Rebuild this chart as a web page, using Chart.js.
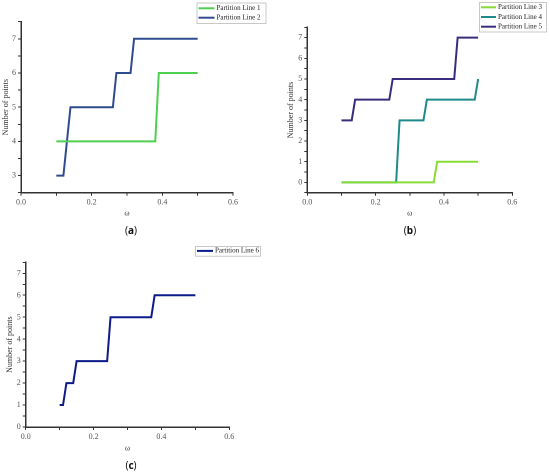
<!DOCTYPE html>
<html>
<head>
<meta charset="utf-8">
<script src="https://cdn.jsdelivr.net/npm/chart.js@4.4.0/dist/chart.umd.min.js"></script>
<style>
  html, body { margin:0; padding:0; background:#fff; }
  #wrap { position:relative; width:550px; height:473px; overflow:hidden; }
  canvas { position:absolute; }
  .cap { position:absolute; font-family:"Noto Sans", sans-serif; font-size:10px; color:#111; transform:translate(-50%,-50%); white-space:nowrap; }
  .cap b { font-weight:bold; }
</style>
</head>
<body>
<div id="wrap">
  <canvas id="ca" style="left:0;top:0;width:275px;height:230px"></canvas>
  <canvas id="cb" style="left:275px;top:0;width:275px;height:230px"></canvas>
  <canvas id="cc" style="left:0;top:230px;width:275px;height:243px"></canvas>
  <div class="cap" style="left:131px;top:230px">(<b>a</b>)</div>
  <div class="cap" style="left:410px;top:230px">(<b>b</b>)</div>
  <div class="cap" style="left:131px;top:465px">(<b>c</b>)</div>
</div>
<script>
// ---- data ----
const xTickLabels = ['0.0', '0.2', '0.4', '0.6'];
const line1X = [0.10, 0.38, 0.39, 0.50];
const line1Y = [4, 4, 6, 6];
const line2X = [0.10, 0.12, 0.14, 0.26, 0.27, 0.31, 0.32, 0.50];
const line2Y = [3, 3, 5, 5, 6, 6, 7, 7];
const line3X = [0.10, 0.37, 0.38, 0.50];
const line3Y = [0, 0, 1, 1];
const line4X = [0.10, 0.26, 0.27, 0.34, 0.35, 0.49, 0.50];
const line4Y = [0, 0, 3, 3, 4, 4, 5];
const line5X = [0.10, 0.13, 0.14, 0.24, 0.25, 0.43, 0.44, 0.50];
const line5Y = [3, 3, 4, 4, 5, 5, 7, 7];
const line6X = [0.10, 0.11, 0.12, 0.14, 0.15, 0.24, 0.25, 0.37, 0.38, 0.50];
const line6Y = [1, 1, 2, 2, 3, 3, 5, 5, 6, 6];
const yTicksA = [3, 4, 5, 6, 7];
const yTicksB = [0, 1, 2, 3, 4, 5, 6, 7];
const yTicksC = [0, 1, 2, 3, 4, 5, 6, 7];

function pts(xs, ys) { return xs.map((x, i) => ({x: x, y: ys[i]})); }

const SERIF = '"Liberation Serif", "DejaVu Serif", serif';
const AXIS = '#333';

const legendBox = {
  id: 'legendBox',
  afterDraw(chart, args, o) {
    const ctx = chart.ctx;
    const ds = chart.data.datasets;
    ctx.save();
    ctx.fillStyle = '#fff';
    ctx.fillRect(o.x, o.y, o.w, o.h);
    ctx.strokeStyle = '#bbb';
    ctx.lineWidth = 0.8;
    ctx.strokeRect(o.x + 0.5, o.y + 0.5, o.w, o.h);
    ctx.font = '7px ' + SERIF;
    ctx.textBaseline = 'middle';
    ds.forEach((d, i) => {
      const yy = o.y + o.row0 + i * o.rowH;
      ctx.strokeStyle = d.borderColor;
      ctx.lineWidth = 2;
      ctx.beginPath();
      ctx.moveTo(o.x + 2, yy);
      ctx.lineTo(o.x + 2 + o.sample, yy);
      ctx.stroke();
      ctx.fillStyle = '#222';
      ctx.fillText(d.label, o.x + 4 + o.sample, yy);
    });
    ctx.restore();
  }
};

function makeChart(id, W, H, area, datasets, yMin, yMax, yLabels, leg) {
  return new Chart(document.getElementById(id), {
    type: 'line',
    data: { datasets: datasets.map(d => ({
      label: d.label, data: d.data, borderColor: d.color, backgroundColor: d.color,
      borderWidth: 2, pointRadius: 0, tension: 0, fill: false
    })) },
    options: {
      responsive: false, animation: false, devicePixelRatio: 2,
      layout: { padding: { left: 0, top: area.top, right: W - area.right, bottom: 0 } },
      plugins: { legend: { display: false }, tooltip: { enabled: false }, legendBox: leg },
      scales: {
        x: {
          type: 'linear', min: 0, max: 0.6,
          afterFit(s) { s.height = H - area.bottom; },
          afterBuildTicks(s) { s.ticks = [0,1,2,3,4,5,6].map(i => ({value: i / 10})); },
          border: { color: AXIS, width: 1.5 },
          grid: { drawOnChartArea: false, drawTicks: true, tickLength: 3, color: AXIS, lineWidth: 1 },
          ticks: { font: { family: SERIF, size: 8 }, color: '#555', padding: 2, maxRotation: 0,
            autoSkip: false,
            callback: (v, i) => (i % 2 === 0 ? xTickLabels[i / 2] : '') },
          title: { display: true, text: 'ω', font: { family: SERIF, size: 8 }, color: '#444',
            padding: { top: 0, bottom: area.xTitleOff } }
        },
        y: {
          type: 'linear', min: yMin, max: yMax,
          afterFit(s) { s.width = area.left; },
          afterBuildTicks(s) {
            const t = [];
            for (let v = yMin; v <= yMax + 1e-9; v += 0.5) t.push({value: v});
            s.ticks = t;
          },
          border: { color: AXIS, width: 1.5 },
          grid: { drawOnChartArea: false, drawTicks: true, tickLength: 3, color: AXIS, lineWidth: 1 },
          ticks: { font: { family: SERIF, size: 8 }, color: '#555', padding: 2, autoSkip: false,
            callback: (v) => (yLabels.includes(v) ? String(v) : '') },
          title: { display: true, text: 'Number of points', font: { family: SERIF, size: 8 }, color: '#333',
            padding: { top: area.yTitleOff, bottom: 0 } }
        }
      }
    },
    plugins: [legendBox]
  });
}

function sizeCanvas(id, w, h) {
  const c = document.getElementById(id);
  c.width = w; c.height = h;
  c.style.width = w + 'px'; c.style.height = h + 'px';
}
sizeCanvas('ca', 275, 230);
sizeCanvas('cb', 275, 230);
sizeCanvas('cc', 275, 243);

makeChart('ca', 275, 230,
  { left: 21, right: 233, top: 21.7, bottom: 192.7, xTitleOff: 12, yTitleOff: 1.2 },
  [ { label: 'Partition Line 1', data: pts(line1X, line1Y), color: '#4fcf4f' },
    { label: 'Partition Line 2', data: pts(line2X, line2Y), color: '#2f4b8f' } ],
  2.5, 7.5, yTicksA,
  { x: 196.5, y: 2.5, w: 69, h: 20.5, row0: 5.8, rowH: 9.4, sample: 16 });

makeChart('cb', 275, 230,
  { left: 32.3, right: 237.3, top: 27.3, bottom: 192.7, xTitleOff: 12, yTitleOff: 11.2 },
  [ { label: 'Partition Line 3', data: pts(line3X, line3Y), color: '#86dc35' },
    { label: 'Partition Line 4', data: pts(line4X, line4Y), color: '#1f8a8a' },
    { label: 'Partition Line 5', data: pts(line5X, line5Y), color: '#3b2d7d' } ],
  -0.5, 7.5, yTicksB,
  { x: 204, y: 2, w: 67, h: 29.5, row0: 5.3, rowH: 9.7, sample: 15 });

makeChart('cc', 275, 243,
  { left: 25.7, right: 229.3, top: 32.3, bottom: 197, xTitleOff: 20, yTitleOff: 5.2 },
  [ { label: 'Partition Line 6', data: pts(line6X, line6Y), color: '#0d1a8a' } ],
  0, 7.5, yTicksC,
  { x: 195, y: 16, w: 65, h: 9.7, row0: 4.9, rowH: 9.7, sample: 16 });
</script>
</body>
</html>
